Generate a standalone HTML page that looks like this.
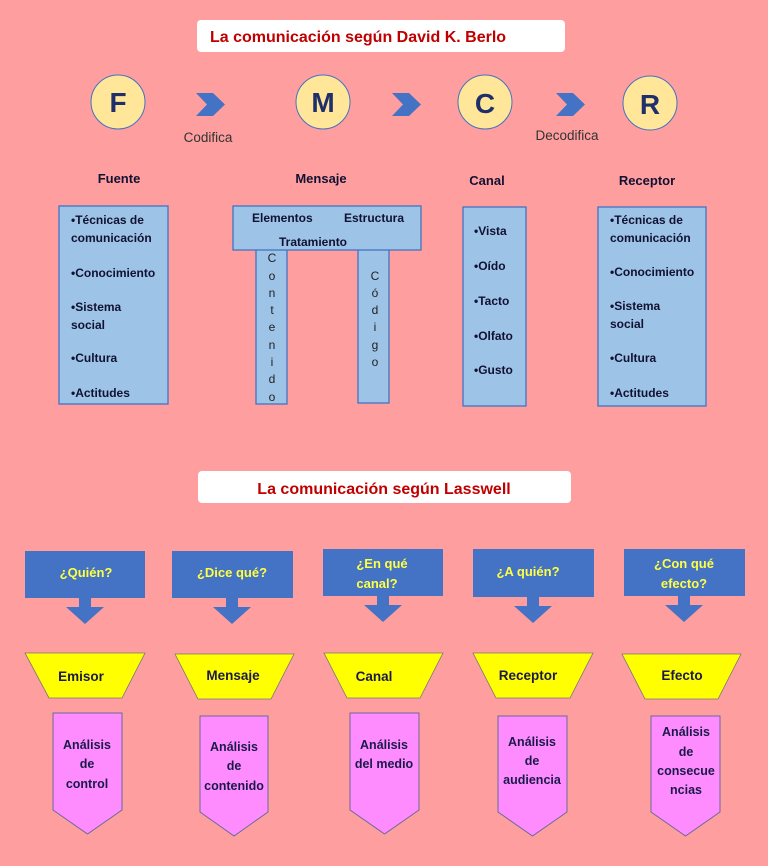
<!DOCTYPE html>
<html><head><meta charset="utf-8"><style>
html,body{margin:0;padding:0;background:#ff9e9e;}
svg{display:block;font-family:"Liberation Sans",sans-serif;}
.b{font-weight:bold;fill:#111133;font-size:12px;}
.h{font-weight:bold;fill:#111133;font-size:13px;}
.lb{font-weight:bold;fill:#1a1a4a;font-size:12.5px;}
</style></head><body>
<svg width="768" height="866" viewBox="0 0 768 866" xmlns="http://www.w3.org/2000/svg">
<rect width="768" height="866" fill="#ff9e9e"/>
<rect x="197" y="20" width="368" height="32" rx="4" fill="#fff"/>
<text x="358" y="42" text-anchor="middle" font-weight="bold" font-size="16" fill="#c00000">La comunicación según David K. Berlo</text>

<g stroke="#4472c4" stroke-width="1" fill="#ffe699">
<circle cx="118" cy="102" r="27"/><circle cx="323" cy="102" r="27"/><circle cx="485" cy="102" r="27"/><circle cx="650" cy="103" r="27"/>
</g>
<g font-weight="bold" font-size="28" fill="#1f2f6a" text-anchor="middle">
<text x="118" y="112">F</text><text x="323" y="112">M</text><text x="485" y="113">C</text><text x="650" y="114">R</text></g>
<g fill="#4472c4">
<polygon points="196,93 213,93 225,104.5 213,116 196,116 207,104.5"/>
<polygon points="392,93 409,93 421,104.5 409,116 392,116 403,104.5"/>
<polygon points="556,93 573,93 585,104.5 573,116 556,116 567,104.5"/>
</g>
<text x="208" y="142" text-anchor="middle" font-size="13.5" fill="#333">Codifica</text>
<text x="567" y="140" text-anchor="middle" font-size="13.5" fill="#333">Decodifica</text>

<g text-anchor="middle">
<text x="119" y="183" class="h">Fuente</text><text x="321" y="183" class="h">Mensaje</text><text x="487" y="185" class="h">Canal</text><text x="647" y="185" class="h">Receptor</text></g>

<g fill="#9dc3e6" stroke="#4472c4" stroke-width="1.3">
<rect x="59" y="206" width="109" height="198"/>
<rect x="256" y="249" width="31" height="155"/>
<rect x="358" y="249" width="31" height="154"/>
<rect x="233" y="206" width="188" height="44"/>
<rect x="463" y="207" width="63" height="199"/>
<rect x="598" y="207" width="108" height="199"/>
</g>
<g class="b">
<text x="71" y="224">•Técnicas de</text><text x="71" y="242">comunicación</text>
<text x="71" y="277">•Conocimiento</text>
<text x="71" y="311">•Sistema</text><text x="71" y="329">social</text>
<text x="71" y="362">•Cultura</text><text x="71" y="397">•Actitudes</text>
<text x="610" y="224">•Técnicas de</text><text x="610" y="242">comunicación</text>
<text x="610" y="276">•Conocimiento</text>
<text x="610" y="310">•Sistema</text><text x="610" y="328">social</text>
<text x="610" y="362">•Cultura</text><text x="610" y="397">•Actitudes</text>
<text x="474" y="235">•Vista</text><text x="474" y="270">•Oído</text><text x="474" y="305">•Tacto</text><text x="474" y="340">•Olfato</text><text x="474" y="374">•Gusto</text>
<text x="252" y="222">Elementos</text><text x="344" y="222">Estructura</text><text x="279" y="246">Tratamiento</text>
</g>
<g font-size="12" fill="#222" text-anchor="middle">
<text x="272" y="262">C</text><text x="272" y="280">o</text><text x="272" y="297">n</text><text x="272" y="314">t</text><text x="272" y="331">e</text><text x="272" y="349">n</text><text x="272" y="366">i</text><text x="272" y="383">d</text><text x="272" y="401">o</text>
<text x="375" y="280">C</text><text x="375" y="297">ó</text><text x="375" y="314">d</text><text x="375" y="331">i</text><text x="375" y="349">g</text><text x="375" y="366">o</text>
</g>

<rect x="198" y="471" width="373" height="32" rx="4" fill="#fff"/>
<text x="384" y="494" text-anchor="middle" font-weight="bold" font-size="16" fill="#c00000">La comunicación según Lasswell</text>

<g fill="#4472c4">
<rect x="25" y="551" width="120" height="47"/><polygon points="79,597 91,597 91,607 104,607 85,624 66,607 79,607"/>
<rect x="172" y="551" width="121" height="47"/><polygon points="226,597 238,597 238,607 251,607 232,624 213,607 226,607"/>
<rect x="323" y="549" width="120" height="47"/><polygon points="377,595 389,595 389,605 402,605 383,622 364,605 377,605"/>
<rect x="473" y="549" width="121" height="48"/><polygon points="527,596 539,596 539,606 552,606 533,623 514,606 527,606"/>
<rect x="624" y="549" width="121" height="47"/><polygon points="678,595 690,595 690,605 703,605 684,622 665,605 678,605"/>
</g>
<g fill="#ffff44" font-weight="bold" font-size="13" text-anchor="middle">
<text x="86" y="577">¿Quién?</text><text x="232" y="577">¿Dice qué?</text>
<text x="382" y="568">¿En qué</text><text x="377" y="588">canal?</text>
<text x="528" y="576">¿A quién?</text>
<text x="684" y="568">¿Con qué</text><text x="684" y="588">efecto?</text>
</g>
<g fill="#ffff00" stroke="#777" stroke-width="0.8">
<polygon points="25,653 145,653 122,698 49,698"/>
<polygon points="175,654 294,654 271,699 198,699"/>
<polygon points="324,653 443,653 420,698 347,698"/>
<polygon points="473,653 593,653 570,698 496,698"/>
<polygon points="622,654 741,654 718,699 645,699"/>
</g>
<g class="lb" text-anchor="middle" style="font-size:13.5px">
<text x="81" y="681">Emisor</text><text x="233" y="680">Mensaje</text><text x="374" y="681">Canal</text><text x="528" y="680">Receptor</text><text x="682" y="680">Efecto</text>
</g>
<g fill="#ff8cff" stroke="#6a6a9a" stroke-width="1">
<polygon points="53,713 122,713 122,810 87.5,834 53,810"/>
<polygon points="200,716 268,716 268,812 234,836 200,812"/>
<polygon points="350,713 419,713 419,810 384.5,834 350,810"/>
<polygon points="498,716 567,716 567,812 532.5,836 498,812"/>
<polygon points="651,716 720,716 720,812 685.5,836 651,812"/>
</g>
<g class="lb" text-anchor="middle">
<text x="87" y="749">Análisis</text><text x="87" y="768">de</text><text x="87" y="788">control</text>
<text x="234" y="751">Análisis</text><text x="234" y="770">de</text><text x="234" y="790">contenido</text>
<text x="384" y="749">Análisis</text><text x="384" y="768">del medio</text>
<text x="532" y="746">Análisis</text><text x="532" y="765">de</text><text x="532" y="784">audiencia</text>
<text x="686" y="736">Análisis</text><text x="686" y="756">de</text><text x="686" y="775">consecue</text><text x="686" y="794">ncias</text>
</g>
</svg>
</body></html>
